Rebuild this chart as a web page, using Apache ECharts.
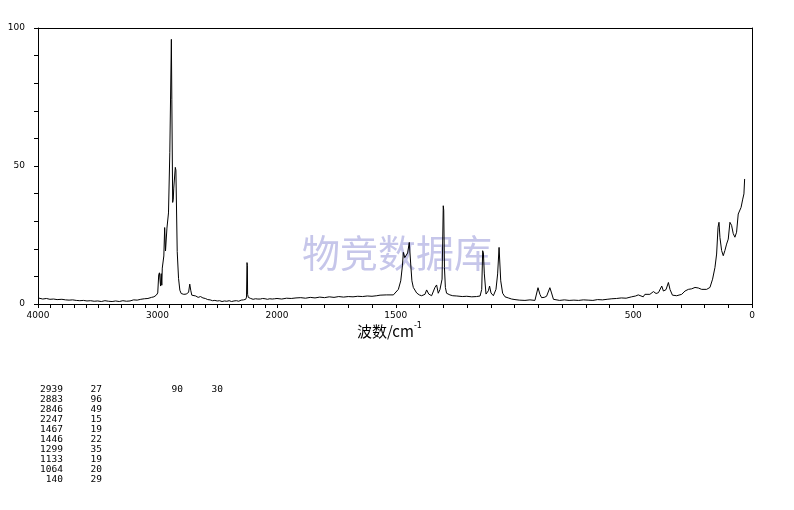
<!DOCTYPE html>
<html>
<head>
<meta charset="utf-8">
<script src="https://cdn.jsdelivr.net/npm/echarts@6/dist/echarts.min.js"></script>
<style>
html,body{margin:0;padding:0;background:#fff;}
#chart{width:794px;height:510px;}
</style>
</head>
<body>
<div id="chart"></div>
<script>
// Raman spectrum: wavenumber (cm-1) and relative intensity
var wavenumbers = [
4000,3960,3930,3900,3870,3840,3800,3770,3740,3710,3680,3650,3620,3590,3560,3530,3500,3470,3440,3410,3380,3350,3320,3290,3260,3230,3200,3170,3140,3110,3080,3050,3030,3010,
2998,2990,2984,2978,2974,2969,2964,2960,2956,2947,2940,2937,2933,2928,2921,2916,2908,2897,2891,2884,2880,2877,2873,2868,2864,2859,2851,2846,2841,2835,2824,2813,2802,
2780,2760,2740,2730,2722,2713,2700,2680,2660,2640,2620,2600,2580,2560,2540,2520,2500,2480,2460,2440,2420,2400,2380,2360,2340,2320,2300,2280,2262,2255,2251,2248,2246,2240,
2220,2200,2180,2160,2140,2120,2100,2080,2060,2040,2020,2000,
1980,1960,1940,1920,1900,1880,1860,1840,1820,1800,1780,1760,1740,1720,1700,1680,1660,1640,1620,1600,1580,1566,1540,1510,1503,1489,1479,1472,1468,1462,1457,1450,1443,1437,1432,1426,1420,1412,1401,1391,1377,1370,1361,1349,1342,1335,1328,1321,1314,1305,1300,1298,1295,1291,1286,1272,1260,1243,1220,1201,1180,1160,1145,1138,1134,1131,1127,1120,1110,1105,1099,1089,1078,1071,1065,1062,1058,1050,1040,1026,1012,
998,980,956,935,914,907,901,897,893,886,875,865,851,844,836,829,810,790,770,750,730,710,690,670,650,630,610,590,570,550,530,507,490,479,458,451,430,415,404,394,380,373,362,352,345,335,317,296,282,268,254,240,226,212,191,177,166,156,149,143,139,135,128,121,114,107,100,93,86,79,72,65,58,51,46,39,34,31
];
var intensities = [
2.2,1.8,2.0,1.7,1.8,1.6,1.7,1.5,1.4,1.5,1.3,1.2,1.3,1.1,1.2,1.0,1.1,0.9,1.2,1.0,0.9,1.1,0.9,1.2,1.0,1.1,1.5,1.4,1.7,1.9,2.0,2.4,2.6,3.2,
4.0,10.5,11.3,10.8,6.5,11.0,6.8,13.0,13.2,17.4,27.7,27.5,19.2,19.5,27.5,28.0,33.0,54.8,55.5,95.9,74.0,73.8,36.8,38.0,42.0,42.0,49.5,48.5,48.7,19.0,9.3,5.0,3.8,
3.5,3.6,4.2,7.2,5.0,3.2,2.8,2.9,2.4,2.7,2.2,2.0,1.6,1.5,1.2,1.3,1.1,1.2,0.9,1.1,1.0,1.2,0.9,1.1,1.2,1.0,1.4,1.5,1.7,2.5,15.0,14.0,3.5,2.4,
2.0,1.7,1.9,1.8,1.8,2.0,1.9,1.7,1.9,1.8,1.9,2.0,
1.8,2.1,2.0,2.2,2.3,2.1,2.4,2.2,2.5,2.3,2.6,2.4,2.7,2.5,2.7,2.6,2.8,2.7,2.9,2.8,3.0,3.2,3.3,3.3,3.9,5.3,8.4,13.8,18.7,16.8,17.5,18.5,22.3,14.5,8.4,6.0,5.4,4.0,3.3,3.0,3.5,5.1,3.6,3.0,3.7,6.0,6.9,3.9,5.2,9.0,35.6,34.0,13.2,6.0,3.9,3.3,3.0,2.9,2.7,2.8,2.6,2.7,2.9,5.3,19.3,18.5,10.9,3.6,4.8,6.5,4.0,3.0,5.3,10.9,20.5,20.0,8.4,3.9,2.6,2.2,1.8,
1.6,1.4,1.3,1.5,1.3,1.7,5.9,5.5,3.5,2.3,2.4,2.8,5.9,4.0,1.7,1.4,1.3,1.5,1.3,1.4,1.3,1.5,1.4,1.3,1.6,1.5,1.7,1.9,2.0,2.2,2.1,2.6,2.9,3.3,2.6,3.5,3.5,4.5,3.8,4.1,6.5,4.7,5.2,7.8,5.2,3.2,3.0,3.5,4.7,5.3,5.5,6.0,5.8,5.3,5.3,6.0,9.0,13.2,18.1,27.8,29.6,24.1,19.4,17.5,19.4,21.7,23.5,29.6,28.5,25.5,24.2,26.0,32.6,32.3,35.0,38.0,39.9,45.3
];

// Axis tick labels
var xLabelsLeft = [4000, 3000];
var xLabelsRight = [2000, 1500, 500, 0];
var yLabels = [0, 50, 100];

// Peak table
var peakWavenumbers = [2939, 2883, 2846, 2247, 1467, 1446, 1299, 1133, 1064, 140];
var peakIntensities = [27, 96, 49, 15, 19, 22, 35, 19, 20, 29];
var extraNumbers = ['90', '30'];

var axisTitle = '波数/cm';
var axisTitleSup = '-1';
var watermark = '物竞数据库';

var leftData = [], rightData = [];
for (var i = 0; i < wavenumbers.length; i++) {
  var p = [wavenumbers[i], intensities[i]];
  if (wavenumbers[i] >= 2000) leftData.push(p);
  if (wavenumbers[i] <= 2000) rightData.push(p);
}

var tickFont = {fontFamily: 'DejaVu Sans', fontSize: 9, color: '#000'};
var blackLine = {show: true, onZero: false, lineStyle: {color: '#000', width: 1}};
var tick = {show: true, length: 4, lineStyle: {color: '#000', width: 1}};

var graphics = [];
graphics.push({
  type: 'text', left: 'center', top: 234, z: -1,
  style: {text: watermark, x: 0, y: 0, fill: '#c6c6ea', font: '38px "Noto Sans CJK SC"'}
});
graphics.push({
  type: 'text', left: 357, top: 322,
  style: {
    text: '{a|' + axisTitle + '}{b|' + axisTitleSup + '}',
    rich: {
      a: {fontFamily: '"Noto Sans CJK SC"', fontSize: 15, fill: '#000', color: '#000', verticalAlign: 'bottom'},
      b: {fontFamily: 'DejaVu Sans', fontSize: 8, fill: '#000', color: '#000', verticalAlign: 'top', padding: [0,0,9,0]}
    }
  }
});
var rowTop = 390, rowStep = 9.9;
for (var r = 0; r < peakWavenumbers.length; r++) {
  var yy = rowTop + r * rowStep;
  graphics.push({type: 'text', x: 63, y: yy, style: {text: String(peakWavenumbers[r]), fill: '#000', font: '9.5px "DejaVu Sans Mono"', textAlign: 'right', textVerticalAlign: 'middle'}});
  graphics.push({type: 'text', x: 102, y: yy, style: {text: String(peakIntensities[r]), fill: '#000', font: '9.5px "DejaVu Sans Mono"', textAlign: 'right', textVerticalAlign: 'middle'}});
}
graphics.push({type: 'text', x: 183, y: rowTop, style: {text: extraNumbers[0], fill: '#000', font: '9.5px "DejaVu Sans Mono"', textAlign: 'right', textVerticalAlign: 'middle'}});
graphics.push({type: 'text', x: 223, y: rowTop, style: {text: extraNumbers[1], fill: '#000', font: '9.5px "DejaVu Sans Mono"', textAlign: 'right', textVerticalAlign: 'middle'}});

var chart = echarts.init(document.getElementById('chart'), null, {renderer: 'canvas'});
chart.setOption({
  animation: false,
  backgroundColor: '#fff',
  grid: [
    {left: 38, top: 28, width: 239, height: 276},
    {left: 277, top: 28, width: 475, height: 276}
  ],
  xAxis: [
    {type: 'value', gridIndex: 0, position: 'bottom', min: 2000, max: 4000, interval: 100, inverse: true,
     axisLine: blackLine, axisTick: tick, splitLine: {show: false},
     axisLabel: Object.assign({margin: 7, showMinLabel: true, showMaxLabel: true,
       formatter: function (v) { return xLabelsLeft.indexOf(v) >= 0 ? String(v) : ''; }}, tickFont)},
    {type: 'value', gridIndex: 0, position: 'top', min: 2000, max: 4000, inverse: true,
     axisLine: blackLine, axisTick: {show: false}, axisLabel: {show: false}, splitLine: {show: false}},
    {type: 'value', gridIndex: 1, position: 'bottom', min: 0, max: 2000, interval: 100, inverse: true,
     axisLine: blackLine, axisTick: tick, splitLine: {show: false},
     axisLabel: Object.assign({margin: 7, showMinLabel: true, showMaxLabel: true,
       formatter: function (v) { return xLabelsRight.indexOf(v) >= 0 ? String(v) : ''; }}, tickFont)},
    {type: 'value', gridIndex: 1, position: 'top', min: 0, max: 2000, inverse: true,
     axisLine: blackLine, axisTick: {show: false}, axisLabel: {show: false}, splitLine: {show: false}}
  ],
  yAxis: [
    {type: 'value', gridIndex: 0, position: 'left', min: 0, max: 100, interval: 10,
     axisLine: blackLine, axisTick: tick, splitLine: {show: false},
     axisLabel: Object.assign({margin: 13, showMinLabel: true, showMaxLabel: true,
       formatter: function (v) { return yLabels.indexOf(v) >= 0 ? String(v) : ''; }}, tickFont)},
    {type: 'value', gridIndex: 1, position: 'right', min: 0, max: 100,
     axisLine: blackLine, axisTick: {show: false}, axisLabel: {show: false}, splitLine: {show: false}}
  ],
  series: [
    {type: 'line', xAxisIndex: 0, yAxisIndex: 0, data: leftData, symbol: 'none',
     lineStyle: {color: '#000', width: 1}, z: 3},
    {type: 'line', xAxisIndex: 2, yAxisIndex: 1, data: rightData, symbol: 'none',
     lineStyle: {color: '#000', width: 1}, z: 3}
  ],
  graphic: graphics
});
</script>
</body>
</html>
